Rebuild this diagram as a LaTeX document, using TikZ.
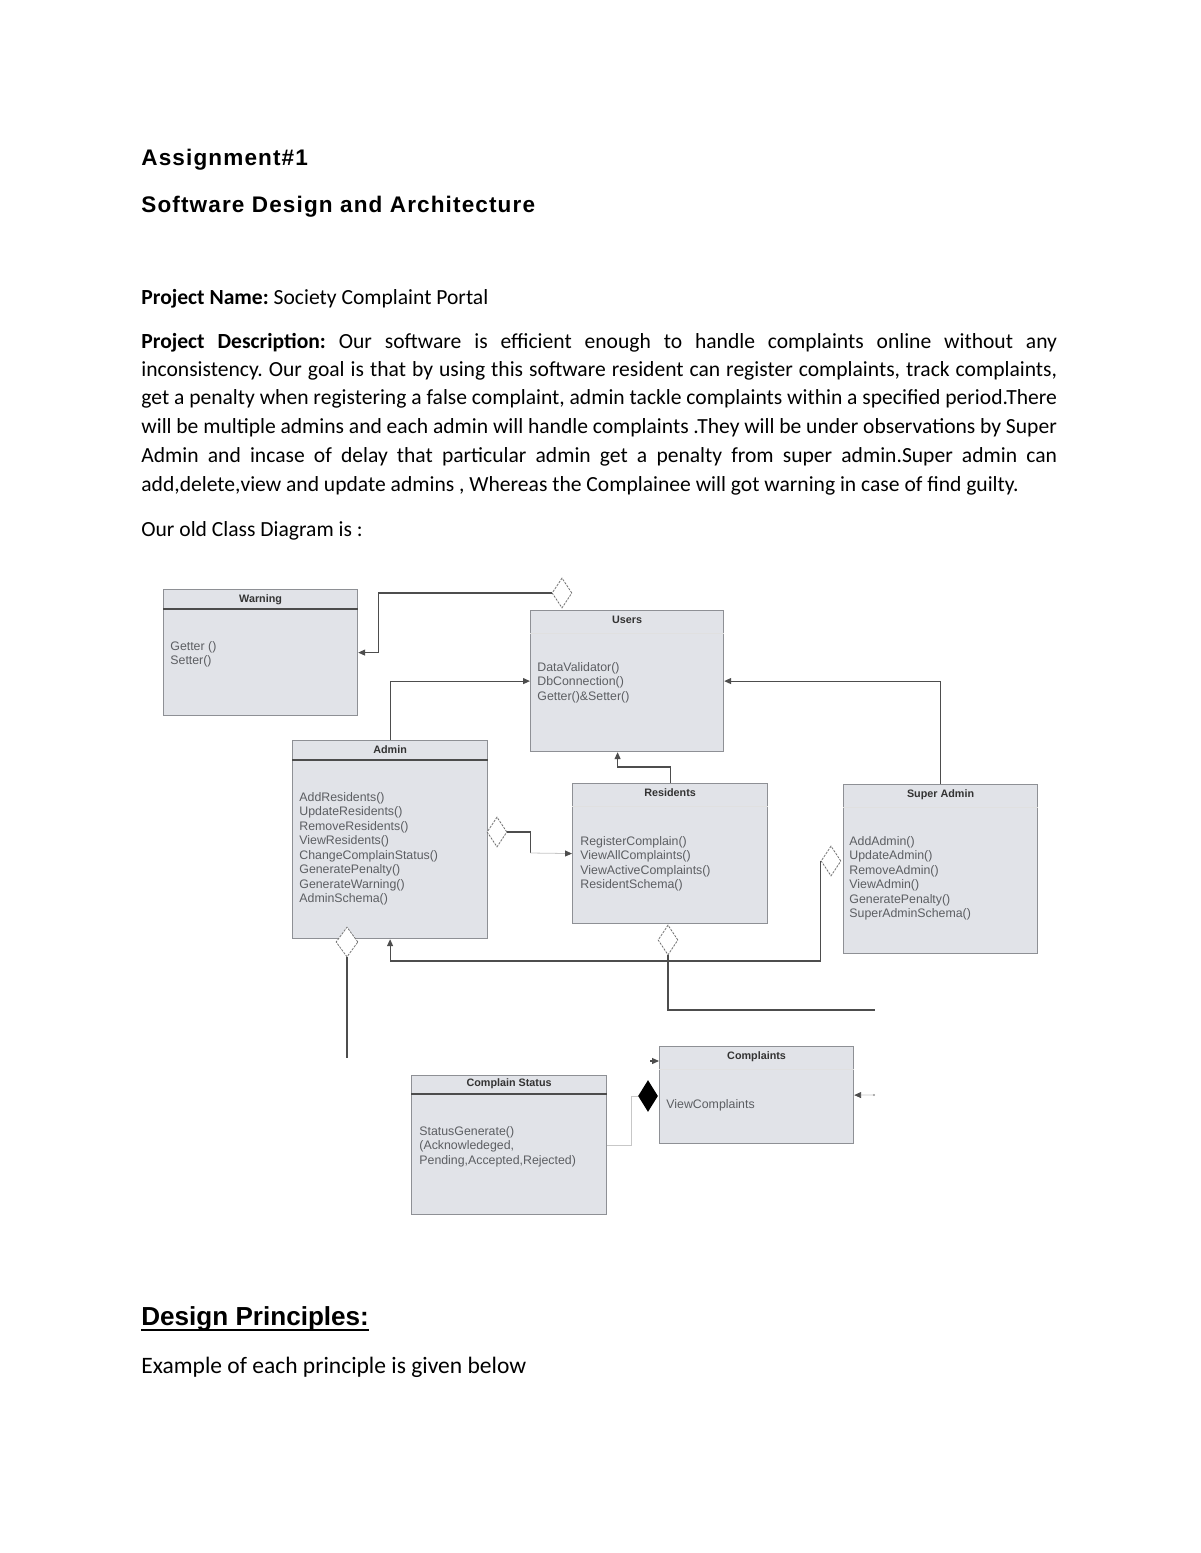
\documentclass[tikz,border=0pt]{standalone}
\usepackage{fontspec}
\setmainfont{Carlito}
\newfontfamily\headfont{Liberation Sans}[LetterSpace=5]
\newfontfamily\umlfont{Liberation Sans}
\usetikzlibrary{positioning,arrows.meta,shapes.geometric}
\definecolor{classfill}{HTML}{E1E3E8}
\definecolor{classline}{HTML}{8E9095}
\definecolor{wire}{HTML}{4D4D4D}
\definecolor{methodtxt}{HTML}{5C5E62}
\newlength\pu
\setlength\pu{0.51pt}
\frenchspacing
\tikzset{
  bodytext/.style={anchor=base west, inner sep=0pt, font=\fontsize{11}{13}\selectfont},
  headtext/.style={anchor=base west, inner sep=0pt, font=\headfont\bfseries\fontsize{11.5}{14}\selectfont},
  classbox/.style={
    draw=classline, line width=0.6pt, fill=classfill, anchor=north west,
    inner sep=0pt, minimum width=194\pu},
  classname/.style={font=\umlfont\bfseries\fontsize{5.5}{6}\selectfont, text=black!80, inner sep=0pt, anchor=base},
  methods/.style={
    font=\umlfont\fontsize{6.3}{7.4}\selectfont, text=methodtxt,
    align=left, anchor=north west, inner sep=0pt},
  hardsep/.style={draw=black!70, line width=0.7pt},
  softsep/.style={draw=black!12, line width=0.5pt},
  agg/.style={
    diamond, draw=black!55, line width=0.4pt, dash pattern=on 1.2pt off 0.6pt,
    fill=white, inner sep=0pt, minimum width=20\pu, minimum height=30\pu},
  comp/.style={diamond, fill=black, inner sep=0pt, minimum width=20\pu, minimum height=32\pu},
  link/.style={draw=wire, line width=0.6pt},
  rel/.style={link, -{Triangle[length=3.5pt,width=3pt]}},
  faint/.style={draw=black!22, line width=0.4pt},
  faintrel/.style={faint, -{Triangle[length=3.5pt,width=3pt,color=wire]}},
}

\begin{document}
\begin{tikzpicture}[x=1\pu, y=-1\pu]
  \fill[white] (0,0) rectangle (1200,1553);
  \useasboundingbox (0,0) rectangle (1200,1553);

  % page text
  \node[headtext] (title) at (141,166) {Assignment\#1};
  \node[headtext] (course) at (141,213) {Software Design and Architecture};
  \node[bodytext] (pname) at (141,304) {\textbf{Project Name:} Society Complaint Portal};
  \node[bodytext] (desc1) at (141,348) {\makebox[467pt][s]{\textbf{Project Description:} Our software is efficient enough to handle complaints online without any}};
  \node[bodytext] (desc2) at (141,376) {\makebox[467pt][s]{inconsistency. Our goal is that by using this software resident can register complaints, track complaints,}};
  \node[bodytext] (desc3) at (141,404) {\makebox[467pt][s]{get a penalty when registering a false complaint, admin tackle complaints within a specified period.There}};
  \node[bodytext] (desc4) at (141,433) {\makebox[467pt][s]{will be multiple admins and each admin will handle complaints .They will be under observations by Super}};
  \node[bodytext] (desc5) at (141,462) {\makebox[467pt][s]{Admin and incase of delay that particular admin get a penalty from super admin.Super admin can}};
  \node[bodytext] (desc6) at (141,491) {add,delete,view and update admins , Whereas the Complainee will got warning in case of find guilty.};
  \node[bodytext] (oldcd) at (141,536) {Our old Class Diagram is :};

  % classes
  \node[classbox, minimum height=126\pu] (warning) at (163,589) {};
  \node[classbox, minimum width=193\pu, minimum height=141\pu] (users) at (530,610) {};
  \node[classbox, minimum width=195\pu, minimum height=198\pu] (admin) at (292,740) {};
  \node[classbox, minimum width=195\pu, minimum height=140\pu] (residents) at (572,783) {};
  \node[classbox, minimum height=169\pu] (superadmin) at (843,784) {};
  \node[classbox, minimum height=97\pu] (complaints) at (659,1046) {};
  \node[classbox, minimum width=195\pu, minimum height=139\pu] (cstatus) at (411,1075) {};

  \draw[hardsep] ([yshift=-20\pu]warning.north west) -- ([yshift=-20\pu]warning.north east);
  \draw[softsep] ([yshift=-23\pu]users.north west) -- ([yshift=-23\pu]users.north east);
  \draw[hardsep] ([yshift=-20\pu]admin.north west) -- ([yshift=-20\pu]admin.north east);
  \draw[softsep] ([yshift=-23\pu]residents.north west) -- ([yshift=-23\pu]residents.north east);
  \draw[softsep] ([yshift=-23\pu]superadmin.north west) -- ([yshift=-23\pu]superadmin.north east);
  \draw[softsep] ([yshift=-23\pu]complaints.north west) -- ([yshift=-23\pu]complaints.north east);
  \draw[hardsep] ([yshift=-19\pu]cstatus.north west) -- ([yshift=-19\pu]cstatus.north east);

  \node[classname] (warningT) at ([yshift=-13.4\pu]warning.north) {Warning};
  \node[classname] (usersT) at ([yshift=-13.4\pu]users.north) {Users};
  \node[classname] (adminT) at ([yshift=-13.4\pu]admin.north) {Admin};
  \node[classname] (residentsT) at ([yshift=-13.4\pu]residents.north) {Residents};
  \node[classname] (superadminT) at ([yshift=-13.4\pu]superadmin.north) {Super Admin};
  \node[classname] (complaintsT) at ([yshift=-13.4\pu]complaints.north) {Complaints};
  \node[classname] (cstatusT) at ([yshift=-11.4\pu]cstatus.north) {Complain Status};

  \node[methods] (warningM) at ([xshift=7\pu,yshift=-52\pu]warning.north west) {Getter ()\\Setter()};
  \node[methods] (usersM) at ([xshift=7\pu,yshift=-52\pu]users.north west)
    {DataValidator()\\DbConnection()\\Getter()\&Setter()};
  \node[methods] (adminM) at ([xshift=7\pu,yshift=-52\pu]admin.north west)
    {AddResidents()\\UpdateResidents()\\RemoveResidents()\\ViewResidents()\\
     ChangeComplainStatus()\\GeneratePenalty()\\GenerateWarning()\\AdminSchema()};
  \node[methods] (residentsM) at ([xshift=8\pu,yshift=-53\pu]residents.north west)
    {RegisterComplain()\\ViewAllComplaints()\\ViewActiveComplaints()\\ResidentSchema()};
  \node[methods] (superadminM) at ([xshift=6\pu,yshift=-52\pu]superadmin.north west)
    {AddAdmin()\\UpdateAdmin()\\RemoveAdmin()\\ViewAdmin()\\GeneratePenalty()\\SuperAdminSchema()};
  \node[methods] (complaintsM) at ([xshift=7\pu,yshift=-53\pu]complaints.north west) {ViewComplaints};
  \node[methods] (cstatusM) at ([xshift=8\pu,yshift=-51\pu]cstatus.north west)
    {StatusGenerate()\\(Acknowledeged,\\Pending,Accepted,Rejected)};

  % diamonds
  \node[agg] (dUsers) at (562,593) {};
  \node[agg] (dAdminR) at (497,832) {};
  \node[agg, minimum width=22\pu] (dAdminB) at (347,942) {};
  \node[agg] (dSuper) at (831,861) {};
  \node[agg] (dRes) at (668,940) {};
  \node[comp] (dComp) at (648,1096) {};

  % connectors
  \draw[rel] (dUsers.west) -- ++(-173,0) |- (warning.east);
  \draw[rel] (admin.north) |- (users.west);
  \draw[rel] (superadmin.north) |- (users.east);
  \draw[rel] (residents.north) -- ++(0,-16) -| ([xshift=-9.5\pu]users.south);
  \draw[link] (dAdminR.east) -- ++(23,0) -- ++(0,21) coordinate (kink);
  \draw[faintrel] (kink) -- (residents.west);
  \coordinate (adminEnd) at (347,1058);
  \draw[link] (dAdminB.south) -- (adminEnd);
  \draw[rel] (dSuper.west) -- ++(0,100) -| (admin.south);
  \coordinate (resEnd) at (875,1010);
  \draw[link] (dRes.south) |- (resEnd);
  \draw[faint] (dComp.west) -- ++(-6,0) |- (cstatus.east);
  \coordinate (cIn) at (650,1061);
  \draw[rel] (cIn) -- (cIn -| complaints.west);
  \coordinate (cOut) at (874,1095);
  \draw[faintrel] (cOut) -- (complaints.east);
  \fill[black!40] (cOut) circle (1.2\pu);

  % closing text
  \node[anchor=base west, inner sep=0pt, font=\umlfont\bfseries\fontsize{13.3}{15}\selectfont] (dp) at (141,1325) {Design Principles:};
  \draw[line width=1.1pt] ([yshift=-2.4pt]dp.base west) -- ([yshift=-2.4pt]dp.base east);
  \node[anchor=base west, inner sep=0pt, font=\fontsize{12}{14}\selectfont] (example) at (141,1373) {Example of each principle is given below};
\end{tikzpicture}
\end{document}
